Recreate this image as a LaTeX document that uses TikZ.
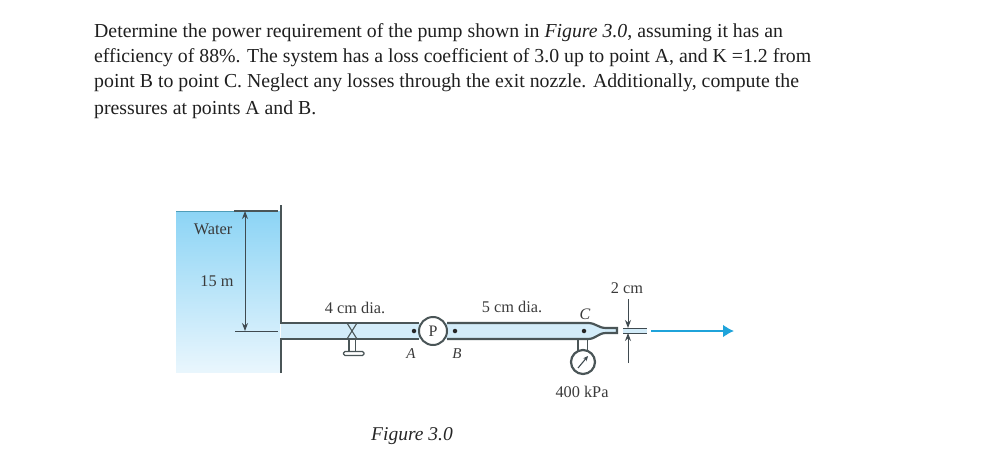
\documentclass[tikz,border=0pt]{standalone}
\usepackage{fontspec}
\setmainfont{Liberation Serif}
\usetikzlibrary{arrows.meta}
\definecolor{pipeblue}{HTML}{D3ECF9}
\definecolor{waterA}{HTML}{8CD4F5}
\definecolor{waterB}{HTML}{E9F6FD}
\definecolor{wallc}{HTML}{4A5557}
\definecolor{dimc}{HTML}{3F4A50}
\definecolor{jetc}{HTML}{1FA3DA}
\definecolor{labelc}{HTML}{3A3A3A}
\definecolor{levelc}{HTML}{4F9DB8}
\tikzset{
  para/.style={anchor=base west,inner sep=0pt,font=\fontsize{19.8}{24}\selectfont,text=black!88},
  lab/.style={inner sep=0pt,font=\fontsize{16.3}{18}\selectfont,text=labelc},
  ptlab/.style={lab,font=\fontsize{15}{16}\selectfont\itshape},
  wall/.style={draw=wallc,line width=2.2pt},
  thin wall/.style={draw=wallc,line width=1.3pt},
  dim/.style={draw=dimc,line width=1pt},
  dimarrow/.style={dim,-{Stealth[length=8pt,width=6pt]}},
  ptdot/.style={circle,fill=black!85,inner sep=0pt,minimum size=4.5pt}
}
\begin{document}
\begin{tikzpicture}[x=1pt,y=-1pt]
\useasboundingbox (0,0) rectangle (998,476);
% paragraph
\node[para] (l1) at (94,38) {Determine the power requirement of the pump shown in \textit{Figure 3.0}, assuming it has an};
\node[para] (l2) at (94,63) {efficiency of 88\%. The system has a loss coefficient of 3.0 up to point A, and K =1.2 from};
\node[para] (l3) at (94,88) {point B to point C. Neglect any losses through the exit nozzle. Additionally, compute the};
\node[para] (l4) at (94,114) {pressures at points A and B.};
% water
\shade[top color=waterA,bottom color=waterB] (176,211) rectangle (280,372);
\fill[pipeblue] (281,323) rectangle (588,339);
\fill[pipeblue] (588,323) -- (606,328) -- (617,328) -- (617,333) -- (606,333) -- (588,339) -- cycle;
\fill[pipeblue] (623,328) rectangle (647,333);
% water level
\draw[levelc,line width=1pt] (176,211) -- (234,211);
\draw[dim,draw=wallc,line width=1.2pt] (234,211) -- (278,211);
\draw[dim] (235,331) -- (278,331);
% tank wall & pipe
\draw[wall] (281,205) -- (281,323) -- (419,323);
\draw[wall] (281,373) -- (281,339) -- (419,339);
\draw[wall] (447,323) -- (588,323) .. controls (596,323) and (598,328) .. (606,328) -- (617,328) -- (617,333) -- (606,333) .. controls (598,333) and (596,339) .. (588,339) -- (447,339);
% dimension of height
\coordinate (hT) at (245,211);
\coordinate (hB) at (245,331);
\draw[dim,{Stealth[length=8pt,width=6pt]}-{Stealth[length=8pt,width=6pt]}] (hT) -- (hB);
\node[lab] (water) at (213,229) {Water};
\node[lab] (h) at (217,281) {15 m};
\node[lab] (d1) at (355,308) {4 cm dia.};
% valve
\draw[thin wall,line width=1.1pt] (347,323) -- (357,339) (357,323) -- (347,339);
\draw[thin wall,line width=1.1pt] (349,339) -- (349,352) (355.5,339) -- (355.5,352);
\draw[thin wall,line width=1.1pt,fill=white,rounded corners=1.5pt] (343.5,351.5) rectangle (364,355.5);
% pump
\node[circle,draw=wallc,line width=2pt,fill=white,minimum size=28pt,inner sep=0pt,font=\fontsize{16}{18}\selectfont,text=labelc] (pump) at (433,331) {P};
\node[ptdot] (A) at (414,331) {};
\node[ptdot] (B) at (455,331) {};
\node[ptlab] (Alab) at (411,354) {A};
\node[ptlab] (Blab) at (457,354) {B};
\node[lab] (d2) at (512,307) {5 cm dia.};
% C and gauge
\node[ptdot] (C) at (584,331) {};
\node[ptlab,font=\fontsize{16}{18}\selectfont\itshape] (Clab) at (585,314) {C};
\node[circle,draw=wallc,line width=2.2pt,fill=white,minimum size=24pt,inner sep=0pt] (gauge) at (583,362) {};
\draw[thin wall] (578,339) -- (578,351) (587.5,339) -- (587.5,351);
\draw[dim,line width=1.1pt,-{Stealth[length=5pt,width=4.5pt]}] (gauge.center) +(-5,6) -- +(5,-6);
\node[lab] (kpa) at (582,392) {400 kPa};
% nozzle dimension
\node[lab] (d3) at (627,288) {2 cm};
\coordinate (dT) at (628,299);
\coordinate (dTe) at (628,328);
\coordinate (dB) at (628,363);
\coordinate (dBe) at (628,333);
\draw[dimarrow] (dT) -- (dTe);
\draw[dimarrow] (dB) -- (dBe);
\draw[dim,line width=.7pt] (623,328) -- (647,328) (623,333) -- (647,333);
% jet
\coordinate (jS) at (651,331);
\coordinate (jE) at (734,331);
\draw[jetc,line width=2.6pt,-{Latex[length=11pt,width=13pt]}] (jS) -- (jE);
\node[inner sep=0pt,font=\fontsize{19.5}{24}\selectfont\itshape,text=black!85] (fig) at (412,436) {Figure 3.0};
\end{tikzpicture}
\end{document}
